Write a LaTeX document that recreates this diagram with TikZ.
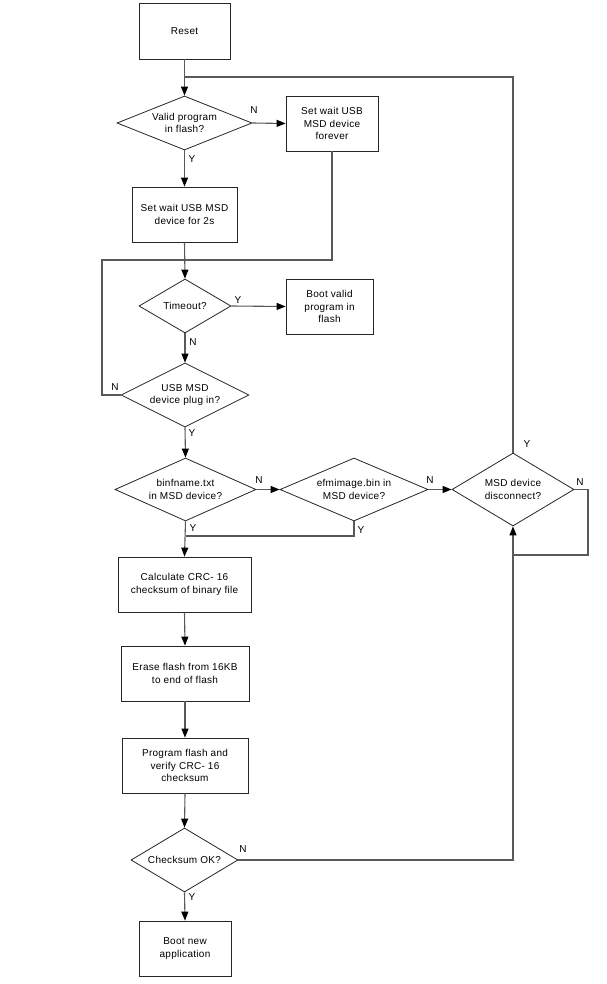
\documentclass[tikz,border=0pt]{standalone}
\usepackage{fontspec}
\setmainfont{Liberation Sans}[LetterSpace=3]
\usetikzlibrary{shapes.geometric,arrows.meta}
\begin{document}
\begin{tikzpicture}[x=1pt,y=-1pt,
  every node/.style={font=\fontsize{10}{12.7}\selectfont},
  box/.style={draw=black!85,line width=0.8pt,inner sep=0pt,align=center},
  dia/.style={draw=black!85,line width=0.8pt,diamond,inner sep=0pt},
  txt/.style={align=center,inner sep=0pt},
  conn/.style={draw=black!65,line width=1.1pt},
  arr/.style={conn,-{Triangle[length=9pt,width=7pt,color=black]}},
  lab/.style={inner sep=0pt,font=\fontsize{10}{11}\selectfont}
]
\useasboundingbox[fill=white] (0,0) rectangle (606,984);

% boxes
\node[box,minimum width=91pt,minimum height=56pt] (reset) at (184.5,31) {Reset};
\node[box,minimum width=92pt,minimum height=55pt] (forever) at (332,123.5) {Set wait USB\\MSD device\\forever};
\node[box,minimum width=105pt,minimum height=55pt] (b2s) at (184.5,214.5) {Set wait USB MSD\\device for 2s};
\node[box,minimum width=87pt,minimum height=55pt] (bootvalid) at (329.5,306.5) {Boot valid\\program in\\flash};
\node[box,minimum width=133pt,minimum height=55pt] (crc) at (184.5,584.5) {Calculate CRC- 16\\checksum of binary file};
\node[box,minimum width=128pt,minimum height=55pt] (erase) at (185,673.5) {Erase flash from 16KB\\to end of flash};
\node[box,minimum width=126pt,minimum height=55pt] (prog) at (185,765.5) {Program flash and\\verify CRC- 16\\checksum};
\node[box,minimum width=92pt,minimum height=55pt] (bootnew) at (185,948.5) {Boot new\\application};

% diamonds
\node[dia,minimum width=135pt,minimum height=54pt,label={[txt]center:{Valid program\\in flash?}}] (valid) at (184.5,123) {};
\node[dia,minimum width=92pt,minimum height=54pt,label={[txt]center:{Timeout?}}] (timeout) at (185,306) {};
\node[dia,minimum width=128pt,minimum height=64pt,label={[txt]center:{USB MSD\\device plug in?}}] (plug) at (185,395) {};
\node[dia,minimum width=141pt,minimum height=63pt,label={[txt]center:{binfname.txt\\in MSD device?}}] (binf) at (185.5,489.5) {};
\node[dia,minimum width=148pt,minimum height=63pt,label={[txt]center:{efmimage.bin in\\MSD device?}}] (efm) at (354,489.5) {};
\node[dia,minimum width=122pt,minimum height=73pt,label={[txt,align=left]center:{MSD device\\disconnect?}}] (msd) at (513,489.5) {};
\node[dia,minimum width=107pt,minimum height=64pt,label={[txt]center:{Checksum OK?}}] (chk) at (184.5,860) {};

% junction coordinates
\coordinate (j1) at (184.5,77);
\coordinate (j2) at (184.5,260);
\coordinate (j3) at (185.5,536);
\coordinate (j4) at (513,555);

% connectors
\draw[arr] (reset.south) -- (valid.north);
\draw[conn] (msd.north) -- (513,77) -- (j1);
\draw[arr] (valid.east) -- (forever.west);
\draw[arr] (valid.south) -- (b2s.north);
\draw[arr] (b2s.south) -- (timeout.north);
\draw[conn] (forever.south) -- (332,260) -- (j2);
\draw[conn] (plug.west) -- (102,395) -- (102,260) -- (j2);
\draw[arr] (timeout.east) -- (bootvalid.west);
\draw[arr] (timeout.south) -- (plug.north);
\draw[arr] (plug.south) -- (binf.north);
\draw[arr] (binf.east) -- (efm.west);
\draw[arr] (binf.south) -- (crc.north);
\draw[conn] (efm.south) -- (354,536) -- (j3);
\draw[arr] (efm.east) -- (msd.west);
\draw[conn] (msd.east) -- (588,489.5) -- (588,555) -- (j4);
\draw[arr] (j4) -- (msd.south);
\draw[arr] (crc.south) -- (erase.north);
\draw[arr] (erase.south) -- (prog.north);
\draw[arr] (prog.south) -- (chk.north);
\draw[arr] (chk.south) -- (bootnew.north);
\draw[conn] (chk.east) -- (513,860) -- (j4);

% labels
\node[lab] (l1) at (254,110) {N};
\node[lab] (l2) at (192,159) {Y};
\node[lab] (l3) at (238,300) {Y};
\node[lab] (l4) at (193,342) {N};
\node[lab] (l5) at (115,387) {N};
\node[lab] (l6) at (192,433) {Y};
\node[lab] (l7) at (259,480) {N};
\node[lab] (l8) at (193,528) {Y};
\node[lab] (l9) at (361,530) {Y};
\node[lab] (l10) at (430,480) {N};
\node[lab] (l11) at (580,482) {N};
\node[lab] (l12) at (527,444) {Y};
\node[lab] (l13) at (243,849) {N};
\node[lab] (l14) at (192,897) {Y};
\end{tikzpicture}
\end{document}
